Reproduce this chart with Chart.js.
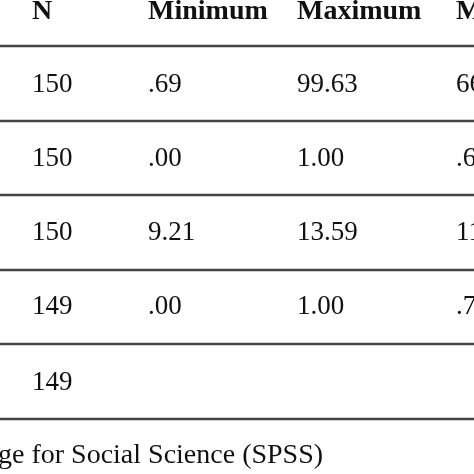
<!DOCTYPE html>
<html><head><meta charset="utf-8">
<script src="https://cdn.jsdelivr.net/npm/chart.js@4"></script>
<style>html,body{margin:0;padding:0;background:#fff}#w{width:474px;height:474px}</style>
</head><body><div id="w"><canvas id="c"></canvas></div>
<script>
const headers = ["N", "Minimum", "Maximum", "M"];
const colN = ["150", "150", "150", "149", "149"];
const colMin = [".69", ".00", "9.21", ".00", ""];
const colMax = ["99.63", "1.00", "13.59", "1.00", ""];
const colMean = ["66", ".6", "11", ".7", ""];
const footer = "ge for Social Science (SPSS)";

const colX = [32, 148, 297, 456];
const headerY = 12, rowY = [85, 159, 233, 307, 383], lineY = [46, 121, 195, 270, 344, 419], footerY = 456;

const tablePlugin = {
  id: 'table',
  afterDraw(chart) {
    const {ctx, scales: {x, y}} = chart;
    ctx.save();
    ctx.fillStyle = '#111';
    ctx.textBaseline = 'middle';
    ctx.font = 'bold 28px "Liberation Serif"';
    headers.forEach((h, i) => ctx.fillText(h, x.getPixelForValue(colX[i]), y.getPixelForValue(headerY)));
    ctx.font = '27px "Liberation Serif"';
    const cols = [colN, colMin, colMax, colMean];
    cols.forEach((col, ci) => col.forEach((v, ri) => ctx.fillText(v, x.getPixelForValue(colX[ci]), y.getPixelForValue(rowY[ri]))));
    ctx.font = '28px "Liberation Serif"';
    ctx.fillText(footer, x.getPixelForValue(-2), y.getPixelForValue(footerY));
    ctx.strokeStyle = '#444'; ctx.lineWidth = 2.5;
    lineY.forEach(ly => { const py = y.getPixelForValue(ly); ctx.beginPath(); ctx.moveTo(0, py); ctx.lineTo(474, py); ctx.stroke(); });
    ctx.restore();
  }
};

new Chart(document.getElementById('c'), {
  type: 'scatter',
  data: { datasets: [{ data: [], pointRadius: 0 }] },
  options: {
    responsive: true, maintainAspectRatio: false, animation: false,
    layout: { padding: 0 },
    plugins: { legend: { display: false }, tooltip: { enabled: false } },
    scales: {
      x: { type: 'linear', min: 0, max: 474, display: false },
      y: { type: 'linear', min: 0, max: 474, reverse: true, display: false }
    }
  },
  plugins: [tablePlugin]
});
</script></body></html>
